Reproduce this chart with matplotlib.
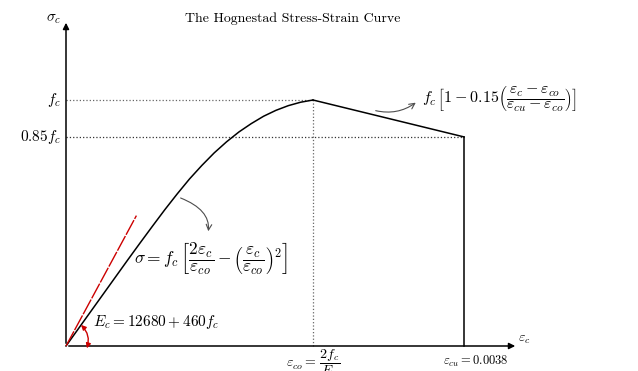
import numpy as np
import matplotlib.pyplot as plt

plt.rcParams['mathtext.fontset'] = 'cm'

# normalised strain (eps / eps_co) and stress (sigma / f_c)
eps_up = [0, 0.05, 0.1, 0.15, 0.2, 0.25, 0.3, 0.35, 0.4, 0.45, 0.5,
          0.55, 0.6, 0.65, 0.7, 0.75, 0.8, 0.85, 0.9, 0.95, 1.0]
sig_up = [0, 0.07, 0.14, 0.21, 0.28, 0.35, 0.419, 0.487, 0.554, 0.618, 0.679,
          0.734, 0.785, 0.83, 0.87, 0.904, 0.934, 0.958, 0.977, 0.991, 1.0]
eps_co = 1.0
eps_cu = 1.611
f_c = 1.0
f_085 = 0.85
eps_down = [eps_co, eps_cu]
sig_down = [f_c, f_085]
tangent_end = [0.285, 0.53]

fig = plt.figure(figsize=(6.38, 3.71), dpi=100)
ax = fig.add_axes([0, 0, 1, 1])
ax.set_xlim(-66 / 247, (638 - 66) / 247)
ax.set_ylim(-25 / 246, 346 / 246)
ax.axis('off')


def px(x, y):
    # pixel position -> data position
    return ((x - 66) / 247, (346 - y) / 246)


# axes with arrows
ax.annotate('', xy=px(518, 346), xytext=px(66, 346),
            arrowprops=dict(arrowstyle='-|>', color='black', lw=1.1, mutation_scale=9))
ax.annotate('', xy=px(66, 20), xytext=px(66, 346),
            arrowprops=dict(arrowstyle='-|>', color='black', lw=1.1, mutation_scale=9))

# dotted guide lines
ax.plot([0, eps_co], [f_c, f_c], ls=':', color='0.4', lw=0.9)
ax.plot([0, eps_cu], [f_085, f_085], ls=':', color='0.2', lw=0.9)
ax.plot([eps_co, eps_co], [0, f_c], ls=':', color='0.4', lw=0.9)

# curve
ax.plot(eps_up, sig_up, color='black', lw=1.1, solid_joinstyle='round')
ax.plot(eps_down, sig_down, color='black', lw=1.1)
ax.plot([eps_cu, eps_cu], [f_085, 0], color='black', lw=1.1)

# tangent
ax.plot([0, tangent_end[0]], [0, tangent_end[1]], color='#cc0000', lw=1.0, ls=(0, (12, 1)))
ax.annotate('', xy=px(86, 351), xytext=px(79, 323),
            arrowprops=dict(arrowstyle='<|-|>', color='#cc0000', lw=1.0, mutation_scale=7,
                            connectionstyle='arc3,rad=-0.35'))

# labels
ax.text(*px(293, 19), 'The Hognestad Stress-Strain Curve', family='cmr10', fontsize=10,
        ha='center', va='center')
ax.text(*px(61, 18), r'$\sigma_c$', fontsize=11, ha='right', va='center')
ax.text(*px(61, 100), r'$f_c$', fontsize=11, ha='right', va='center')
ax.text(*px(61, 137), r'$0.85f_c$', fontsize=11, ha='right', va='center')
ax.text(*px(518, 339), r'$\varepsilon_c$', fontsize=10, ha='left', va='center')
ax.text(*px(313, 347), r'$\varepsilon_{co}=\,\dfrac{2f_c}{E_c}$', fontsize=10, ha='center', va='top')
ax.text(*px(476, 361), r'$\varepsilon_{cu}=0.0038$', fontsize=9, ha='center', va='center')
ax.text(*px(93, 322), r'$E_c=12680+460f_c$', fontsize=11, ha='left', va='center')
ax.text(*px(134, 258), r'$\sigma=f_c\,\left[\dfrac{2\varepsilon_c}{\varepsilon_{co}}-\left(\dfrac{\varepsilon_c}{\varepsilon_{co}}\right)^2\right]$',
        fontsize=12.5, ha='left', va='center')
ax.text(*px(422, 100), r'$f_c\,\left[1-0.15\left(\dfrac{\varepsilon_c-\varepsilon_{co}}{\varepsilon_{cu}-\varepsilon_{co}}\right)\right]$',
        fontsize=11.5, ha='left', va='center')

# curly pointers
ax.annotate('', xy=px(208, 234), xytext=px(178, 197),
            arrowprops=dict(arrowstyle='->', color='0.3', lw=0.8,
                            connectionstyle='angle3,angleA=-20,angleB=80'))
ax.annotate('', xy=px(418, 101), xytext=px(373, 110),
            arrowprops=dict(arrowstyle='->', color='0.3', lw=0.8,
                            connectionstyle='arc3,rad=0.25'))

fig.savefig('out.png', dpi=100)
